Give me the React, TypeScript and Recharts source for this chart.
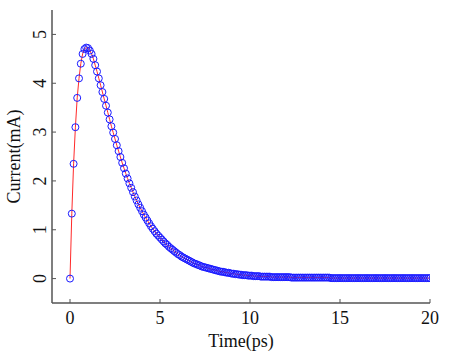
import { LineChart, Line, XAxis, YAxis } from 'recharts'

// current in mA, sampled every 0.1 ps from 0 to 20 ps
const CURRENT = [
  0, 1.33, 2.35, 3.1, 3.7, 4.1, 4.4, 4.6, 4.7, 4.73,
  4.72, 4.67, 4.6, 4.5, 4.37, 4.24, 4.1, 3.96, 3.82, 3.68,
  3.54, 3.4, 3.26, 3.12, 2.99, 2.86, 2.73, 2.61, 2.49, 2.37,
  2.26, 2.15, 2.05, 1.95, 1.86, 1.77, 1.68, 1.6, 1.52, 1.45,
  1.38, 1.31, 1.25, 1.19, 1.13, 1.07, 1.02, 0.97, 0.92, 0.88,
  0.84, 0.8, 0.76, 0.72, 0.69, 0.65, 0.62, 0.59, 0.56, 0.53,
  0.5, 0.48, 0.45, 0.43, 0.41, 0.39, 0.37, 0.35, 0.33, 0.31,
  0.3, 0.28, 0.27, 0.25, 0.24, 0.23, 0.22, 0.21, 0.2, 0.19,
  0.18, 0.17, 0.16, 0.15, 0.14, 0.14, 0.13, 0.12, 0.12, 0.11,
  0.1, 0.1, 0.09, 0.09, 0.08, 0.08, 0.07, 0.07, 0.07, 0.06,
  0.06, 0.06, 0.05, 0.05, 0.05, 0.05, 0.04, 0.04, 0.04, 0.04,
  0.04, 0.04, 0.03, 0.03, 0.03, 0.03, 0.03, 0.03, 0.03, 0.03,
  0.03, 0.03, 0.03, 0.02, 0.02, 0.02, 0.02, 0.02, 0.02, 0.02,
  0.02, 0.02, 0.02, 0.02, 0.02, 0.02, 0.02, 0.02, 0.02, 0.02,
  0.02, 0.02, 0.02, 0.02, 0.02, 0.01, 0.01, 0.01, 0.01, 0.01,
  0.01, 0.01, 0.01, 0.01, 0.01, 0.01, 0.01, 0.01, 0.01, 0.01,
  0.01, 0.01, 0.01, 0.01, 0.01, 0.01, 0.01, 0.01, 0.01, 0.01,
  0.01, 0.01, 0.01, 0.01, 0.01, 0.01, 0.01, 0.01, 0.01, 0.01,
  0.01, 0.01, 0.01, 0.01, 0.01, 0.01, 0.01, 0.01, 0.01, 0.01,
  0.01, 0.01, 0.01, 0.01, 0.01, 0.01, 0.01, 0.01, 0.01, 0.01,
  0.01,
]
const TIME_STEP = 0.1
const X_TICKS = [0, 5, 10, 15, 20]
const Y_TICKS = [0, 1, 2, 3, 4, 5]

const data = CURRENT.map((v, i) => ({ t: +(i * TIME_STEP).toFixed(1), i: v }))

const FONT = '"Liberation Serif", "Times New Roman", serif'
const AXIS = '#555'

/* ── custom ticks: inward marks + serif labels ───────────────────────────── */
function BottomTick({ x, y, payload }: any) {
  return (
    <g>
      <line x1={x} y1={y} x2={x} y2={y - 4} stroke={AXIS} strokeWidth={1} />
      <text x={x} y={y + 21} textAnchor="middle" fontSize={18} fontFamily={FONT} fill="#111">{payload.value}</text>
    </g>
  )
}
function LeftTick({ x, y, payload }: any) {
  return (
    <g>
      <line x1={x} y1={y} x2={x + 4} y2={y} stroke={AXIS} strokeWidth={1} />
      <text x={x - 6} y={y} transform={`rotate(-90, ${x - 6}, ${y})`} textAnchor="middle" fontSize={18} fontFamily={FONT} fill="#111">{payload.value}</text>
    </g>
  )
}
function TopTick({ x, y }: any) {
  return <line x1={x} y1={y} x2={x} y2={y + 4} stroke={AXIS} strokeWidth={1} />
}
function RightTick({ x, y }: any) {
  return <line x1={x} y1={y} x2={x - 4} y2={y} stroke={AXIS} strokeWidth={1} />
}

export default function App() {
  return (
    <div style={{ position: 'absolute', left: 0, top: 0, background: '#fff' }}>
      <LineChart width={474} height={354} data={data} margin={{ top: 10, right: 44, bottom: 11, left: 12 }}>
        <XAxis xAxisId="b" dataKey="t" type="number" domain={[-1, 20]} ticks={X_TICKS} allowDataOverflow
          height={40} tickSize={0} tickMargin={0} tickLine={false} tick={<BottomTick />}
          axisLine={{ stroke: AXIS, strokeWidth: 1.5 }}
          label={{ value: 'Time(ps)', position: 'insideBottom', offset: -4, fontSize: 18, fontFamily: FONT, fill: '#111' }} />
        <XAxis xAxisId="top" orientation="top" dataKey="t" type="number" domain={[-1, 20]} ticks={X_TICKS} allowDataOverflow
          height={0} tickSize={0} tickMargin={0} tickLine={false} tick={<TopTick />}
          axisLine={{ stroke: AXIS, strokeWidth: 1.5 }} />
        <YAxis yAxisId="l" type="number" domain={[-0.5, 5.5]} ticks={Y_TICKS} allowDataOverflow
          width={40} tickSize={0} tickMargin={0} tickLine={false} tick={<LeftTick />}
          axisLine={{ stroke: AXIS, strokeWidth: 1.5 }}
          label={{ value: 'Current(mA)', angle: -90, position: 'insideLeft', offset: 2, fontSize: 18, fontFamily: FONT, fill: '#111', style: { textAnchor: 'middle' } }} />
        <YAxis yAxisId="r" orientation="right" type="number" domain={[-0.5, 5.5]} ticks={Y_TICKS} allowDataOverflow
          width={0} tickSize={0} tickMargin={0} tickLine={false} tick={<RightTick />}
          axisLine={{ stroke: AXIS, strokeWidth: 1.5 }} />
        <Line xAxisId="b" yAxisId="l" dataKey="i" type="linear" stroke="#ff2a2a" strokeWidth={1}
          dot={{ r: 3.5, stroke: '#1a1aff', strokeWidth: 1, fill: 'none' }} isAnimationActive={false} />
      </LineChart>
    </div>
  )
}
